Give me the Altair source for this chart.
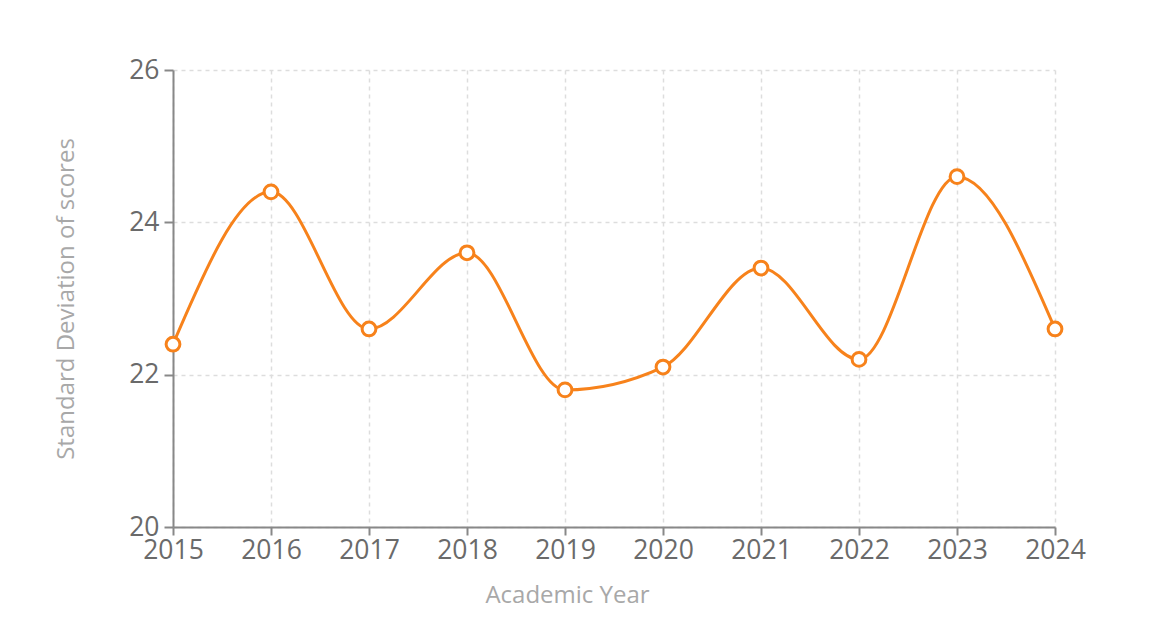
import altair as alt
import pandas as pd

years = [2015, 2016, 2017, 2018, 2019, 2020, 2021, 2022, 2023, 2024]
std_dev = [22.4, 24.4, 22.6, 23.6, 21.8, 22.1, 23.4, 22.2, 24.6, 22.6]

df = pd.DataFrame({"year": years, "sd": std_dev})

FONT = "Open Sans"
ORANGE = "#f7821b"

x = alt.X("year:Q", title="Academic Year",
          scale=alt.Scale(domain=[2015, 2024], nice=False, zero=False),
          axis=alt.Axis(values=years, format="d", labelFontSize=26.5, labelColor="#6a6a6a",
                        labelFont=FONT, titleFont=FONT, titleFontSize=24, titleColor="#a8a8a8",
                        titleFontWeight="normal", titlePadding=20, titleX=394, titleAlign="center",
                        domainColor="#888888", domainWidth=2, tickColor="#888888", tickWidth=2,
                        tickSize=8, labelPadding=2, grid=True, gridDash=[4, 4],
                        gridColor="#dddddd", gridWidth=1.5, labelFlush=False))
y = alt.Y("sd:Q", title="Standard Deviation of scores",
          scale=alt.Scale(domain=[20, 26], nice=False, zero=False),
          axis=alt.Axis(values=[20, 22, 24, 26], labelFontSize=26.5, labelColor="#6a6a6a",
                        labelFont=FONT, titleFont=FONT, titleFontSize=24, titleColor="#a8a8a8",
                        titleFontWeight="normal", titlePadding=50,
                        domainColor="#888888", domainWidth=2, tickColor="#888888", tickWidth=2,
                        tickSize=9, labelPadding=5, grid=True, gridDash=[4, 4],
                        gridColor="#dddddd", gridWidth=1.5))

base = alt.Chart(df).encode(x=x, y=y)
line = base.mark_line(color=ORANGE, strokeWidth=3, interpolate="monotone")
pts = base.mark_point(shape="circle", filled=True, fill="white", stroke=ORANGE,
                      strokeWidth=3, size=190, opacity=1)

chart = (line + pts).properties(
    width=882, height=457, autosize="none",
    padding={"left": 165, "top": 62, "right": 89, "bottom": 106},
    background="#ffffff"
).configure_view(stroke=None)

chart.save("out.html", embed_options={"renderer": "svg", "actions": False})
